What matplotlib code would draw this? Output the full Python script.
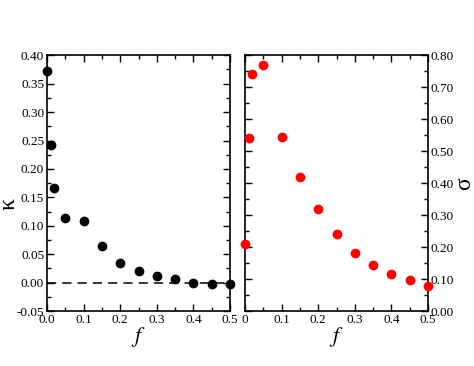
import matplotlib
matplotlib.use("Agg")
import matplotlib.pyplot as plt
from matplotlib.ticker import MultipleLocator, FixedLocator, FixedFormatter

plt.rcParams['font.family'] = ['Liberation Serif', 'DejaVu Serif']
plt.rcParams['mathtext.fontset'] = 'stix'

f_vals = [0.0, 0.01, 0.02, 0.05, 0.10, 0.15, 0.20, 0.25, 0.30, 0.35, 0.40, 0.45, 0.50]
kappa = [0.372, 0.243, 0.167, 0.113, 0.108, 0.065, 0.034, 0.020, 0.011, 0.006, 0.000, -0.003, -0.003]
kappa_err = [0.004, 0.004, 0.003, 0.003, 0.003, 0.002, 0.002, 0.002, 0.002, 0.002, 0.002, 0.002, 0.002]
sigma = [0.21, 0.54, 0.74, 0.77, 0.545, 0.42, 0.32, 0.24, 0.183, 0.143, 0.117, 0.096, 0.08]
sigma_err = [0.008, 0.008, 0.008, 0.008, 0.008, 0.006, 0.006, 0.005, 0.005, 0.005, 0.005, 0.005, 0.005]
f_err = [0.005] * 13

left_yticks = [-0.05, 0.00, 0.05, 0.10, 0.15, 0.20, 0.25, 0.30, 0.35, 0.40]
left_xticks = [0.0, 0.1, 0.2, 0.3, 0.4, 0.5]
left_xlabels = ['0.0', '0.1', '0.2', '0.3', '0.4', '0.5']
right_yticks = [0.0, 0.1, 0.2, 0.3, 0.4, 0.5, 0.6, 0.7, 0.8]
right_xlabels = ['0', '0.1', '0.2', '0.3', '0.4', '0.5']

fig = plt.figure(figsize=(4.74, 3.66), dpi=100)
ax1 = fig.add_axes([0.0992, 0.150, 0.386, 0.699])
ax2 = fig.add_axes([0.517, 0.150, 0.386, 0.699])

ax1.errorbar(f_vals, kappa, yerr=kappa_err, xerr=f_err, fmt='o', color='black',
             ms=6, elinewidth=1, capsize=0, clip_on=False, zorder=3)
ax1.axhline(0.0, color='black', ls=(0, (6, 4)), lw=1.1, zorder=2)
ax1.set_xlim(0, 0.5)
ax1.set_ylim(-0.05, 0.40)
ax1.xaxis.set_major_locator(FixedLocator(left_xticks))
ax1.xaxis.set_major_formatter(FixedFormatter(left_xlabels))
ax1.xaxis.set_minor_locator(MultipleLocator(0.05))
ax1.yaxis.set_major_locator(FixedLocator(left_yticks))
ax1.set_yticklabels(['%.2f' % v for v in left_yticks])
ax1.yaxis.set_minor_locator(MultipleLocator(0.025))
ax1.set_xlabel('$f$', fontsize=16)
ax1.xaxis.set_label_coords(0.5, -0.055)
ax1.set_ylabel('κ', fontsize=17)
ax1.yaxis.set_label_coords(-0.148, 0.42)

ax2.errorbar(f_vals, sigma, yerr=sigma_err, xerr=f_err, fmt='o', color='#ff0000',
             ms=6, elinewidth=1, capsize=0, clip_on=False, zorder=3)
ax2.set_xlim(0, 0.5)
ax2.set_ylim(0.0, 0.8)
ax2.xaxis.set_major_locator(FixedLocator(left_xticks))
ax2.xaxis.set_major_formatter(FixedFormatter(right_xlabels))
ax2.xaxis.set_minor_locator(MultipleLocator(0.05))
ax2.yaxis.set_major_locator(FixedLocator(right_yticks))
ax2.set_yticklabels(['%.2f' % v for v in right_yticks])
ax2.yaxis.set_minor_locator(MultipleLocator(0.05))
ax2.yaxis.tick_right()
ax2.yaxis.set_label_position('right')
ax2.set_xlabel('$f$', fontsize=16)
ax2.xaxis.set_label_coords(0.5, -0.055)
ax2.set_ylabel('σ', fontsize=17, rotation=90)
ax2.yaxis.set_label_coords(1.14, 0.5)

for ax in (ax1, ax2):
    ax.tick_params(which='both', direction='in', top=True, bottom=True, left=True, right=True,
                   labelsize=9.5, pad=2)
    ax.tick_params(which='major', length=5, width=1)
    ax.tick_params(which='minor', length=3, width=1)
    for s in ax.spines.values():
        s.set_linewidth(1.2)
ax2.tick_params(axis='y', which='both', labelleft=False, labelright=True)

fig.savefig('out.png', dpi=100)
